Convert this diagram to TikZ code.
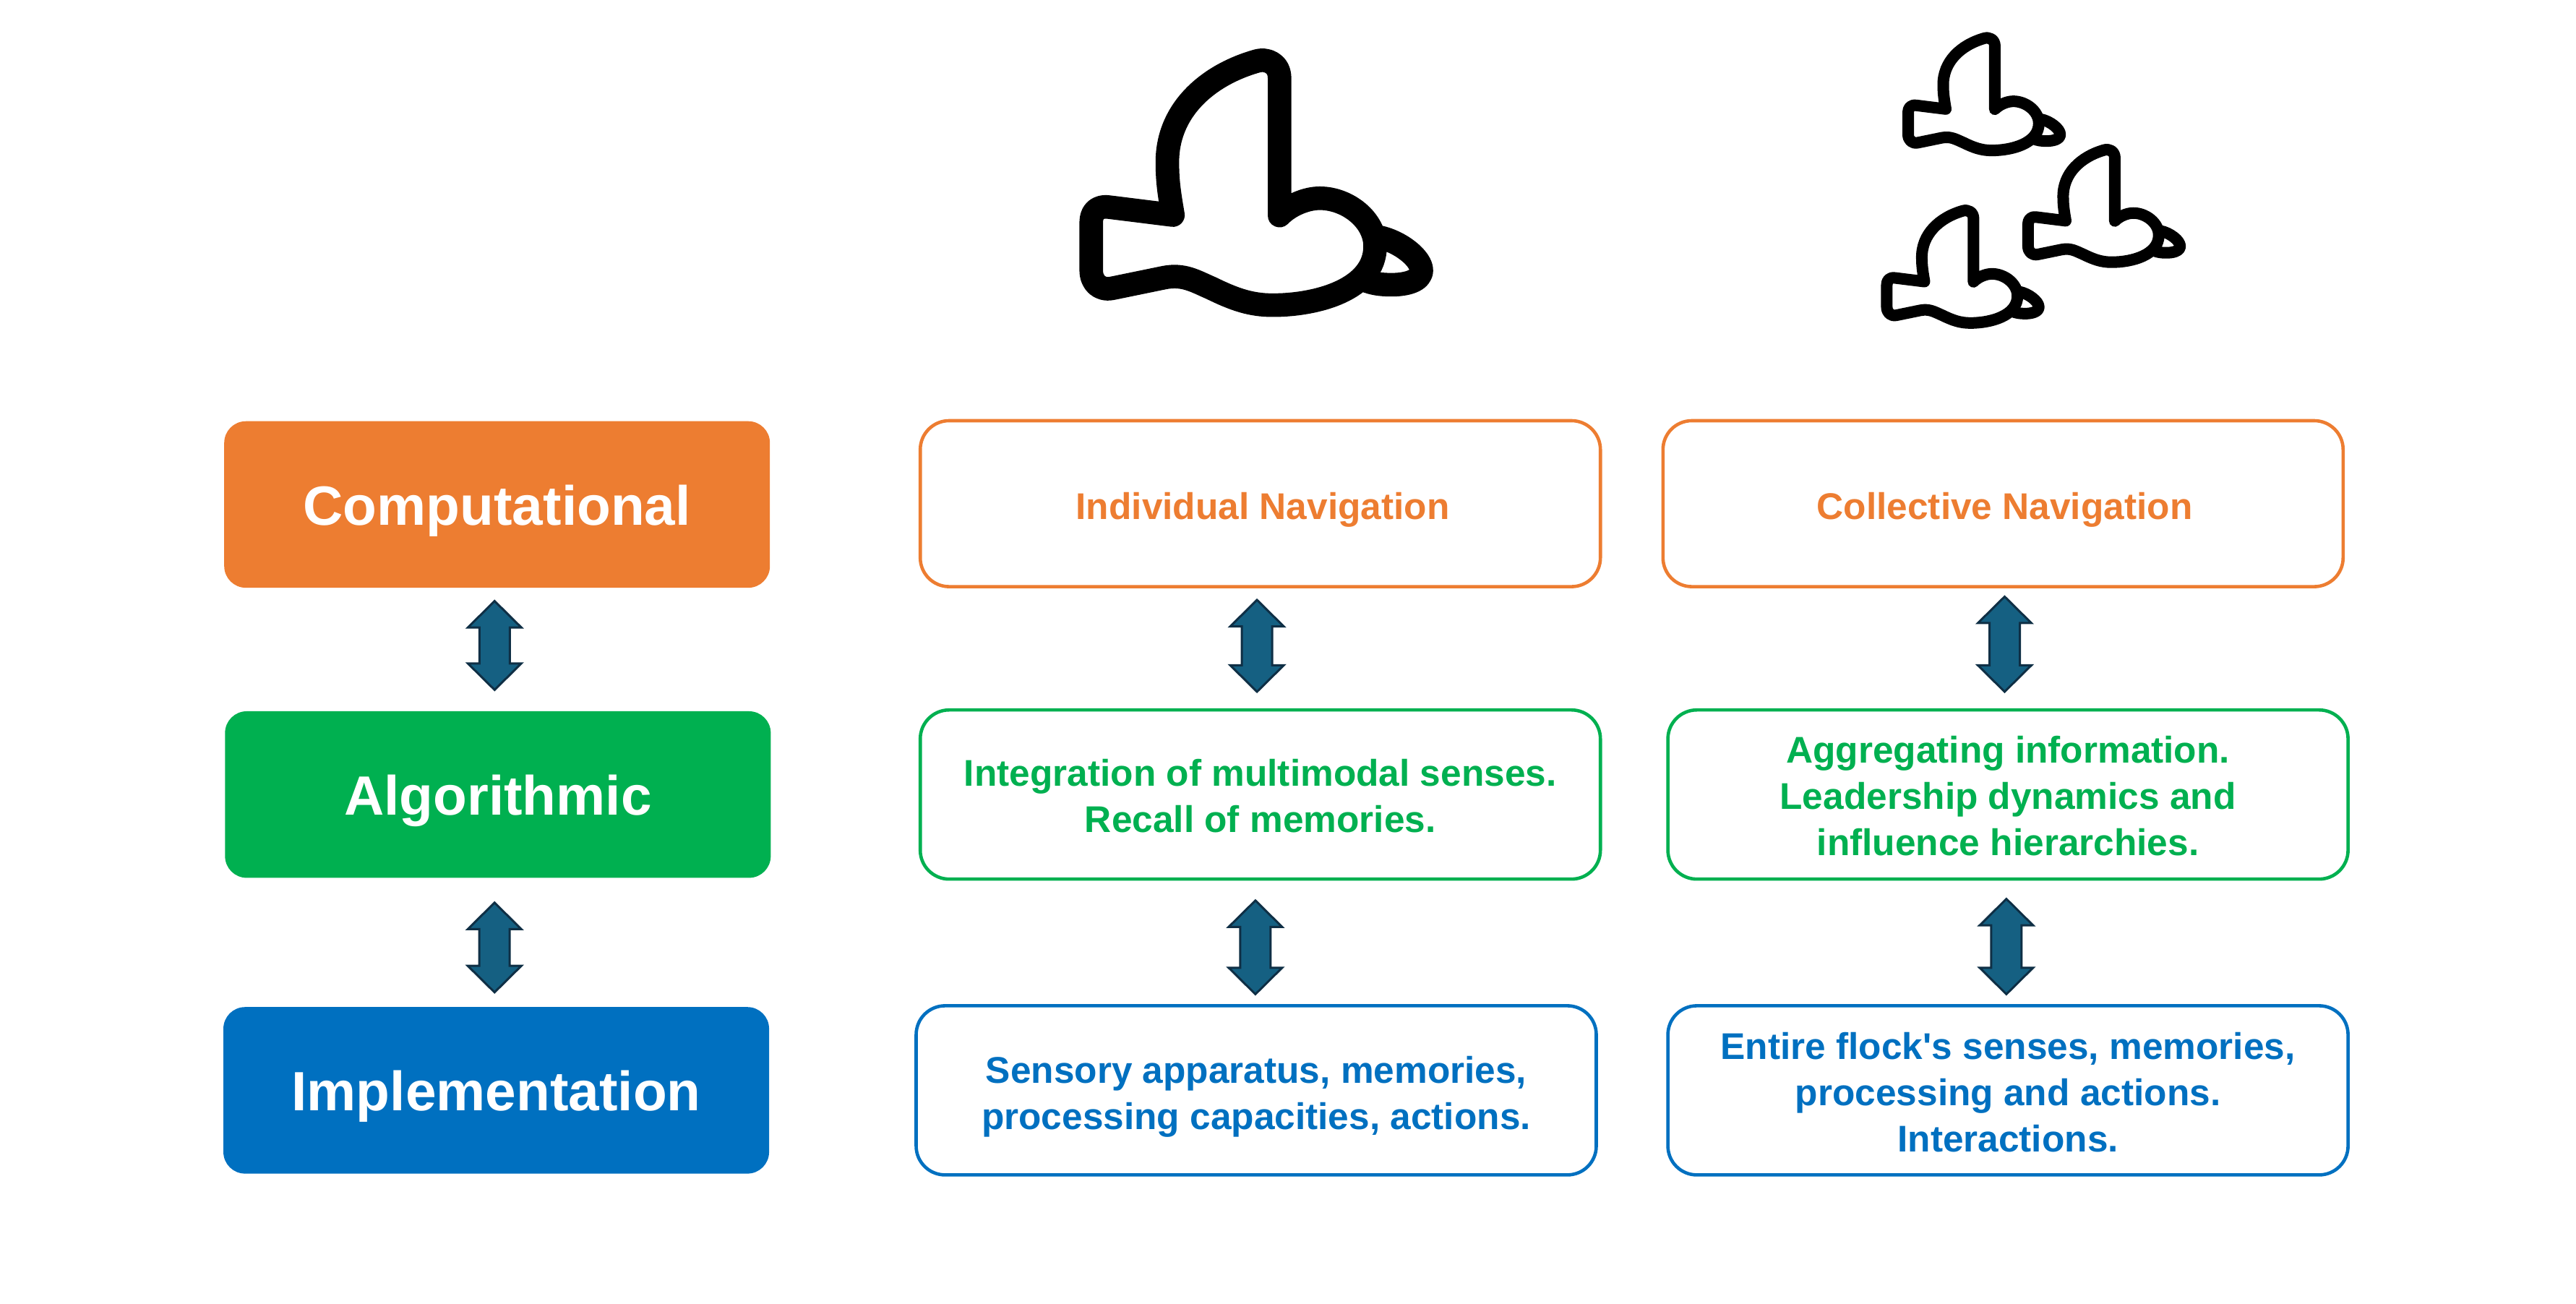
\documentclass[tikz,border=0pt]{standalone}
\usepackage{fontspec}
\setmainfont{Liberation Sans}
\usetikzlibrary{calc}
\definecolor{cOr}{HTML}{ED7D31}
\definecolor{cGr}{HTML}{00B050}
\definecolor{cBl}{HTML}{0070C0}
\definecolor{cAr}{HTML}{156082}
\definecolor{cArD}{HTML}{0F2F45}
\newcommand{\birdpath}{%
  (865,772) -- (865,200) .. controls (865,140) and (820,115) .. (780,130)
  .. controls (600,190) and (455,340) .. (460,560)
  .. controls (460,640) and (470,700) .. (480,770) -- (250,737)
  .. controls (205,730) and (185,760) .. (185,800) -- (185,1000)
  .. controls (185,1050) and (215,1085) .. (260,1075) -- (450,1030)
  .. controls (520,1015) and (560,1045) .. (620,1075)
  .. controls (700,1120) and (760,1145) .. (840,1145)
  .. controls (1000,1145) and (1210,1080) .. (1210,900)
  .. controls (1210,790) and (1110,700) .. (1010,700)
  .. controls (960,700) and (900,730) .. (865,772) -- cycle
  (1225,862) .. controls (1300,880) and (1377,950) .. (1377,1000)
  .. controls (1377,1045) and (1320,1060) .. (1270,1060)
  .. controls (1230,1060) and (1200,1055) .. (1170,1040)}
\newcommand{\topline}[1]{\rule{0pt}{#1pt}}
\tikzset{
  x=1.1367pt, y=-1.1367pt,
  solidbox/.style={rectangle, rounded corners=15pt, fill=#1, text=white, outer sep=0pt,
     font=\fontsize{38.3}{46}\selectfont\bfseries, minimum width=377.5pt, minimum height=115.2pt,
     text height=28.4pt, text depth=0pt},
  linebox/.style={rectangle, rounded corners=20pt, draw=#1, line width=2.3pt, text=#1, fill=white, outer sep=0pt,
     align=center, font=\fontsize{25.7}{32}\selectfont\bfseries, minimum width=470.5pt, minimum height=117pt},
  headbox/.style={linebox=#1, minimum height=114.8pt, text height=22pt, text depth=0pt},
  fatarrow/.style={draw=cArD, fill=cAr, line width=1.5pt, line join=miter,
     to path={let \p1=(\tikztostart), \p2=(\tikztotarget) in
       (\x1,\y1-1.2pt) -- (\x1+18.5pt,\y1-19.5pt) -- (\x1+10.5pt,\y1-19.5pt) -- (\x1+10.5pt,\y2+19.5pt) -- (\x1+18.5pt,\y2+19.5pt)
       -- (\x1,\y2+1.2pt) -- (\x1-18.5pt,\y2+19.5pt) -- (\x1-10.5pt,\y2+19.5pt) -- (\x1-10.5pt,\y1-19.5pt) -- (\x1-18.5pt,\y1-19.5pt) -- cycle}},
  birdline/.style={draw=black, line join=round, line cap=round, line width=#1},
}
\begin{document}
\begin{tikzpicture}
\useasboundingbox (0,0) rectangle (1567.7,793.5);
% left column
\node[solidbox=cOr] (comp) at (302.5,307) {Computational};
\node[solidbox=cGr] (algo) at (303,483.5) {Algorithmic};
\node[solidbox=cBl] (impl) at (302,663.5) {Implementation};
% middle column
\node[headbox=cOr] (indiv) at (767,306.5) {\hspace*{3.4pt}Individual Navigation};
\node[linebox=cGr] (ialg) at (767,483.5) {\topline{21}Integration of multimodal senses.\\Recall of memories.};
\node[linebox=cBl] (iimp) at (764.5,663.5) {\topline{28}Sensory apparatus, memories,\\processing capacities, actions.};
% right column
\node[headbox=cOr] (coll) at (1219,306.5) {\hspace*{2.3pt}Collective Navigation};
\node[linebox=cGr] (calg) at (1222,483.5) {\topline{21}Aggregating information.\\Leadership dynamics and\\influence hierarchies.};
\node[linebox=cBl] (cimp) at (1222,663.5) {\topline{21}Entire flock\textquotesingle s senses, memories,\\processing and actions.\\Interactions.};
% arrows
\draw[fatarrow] ([xshift=-1.7pt,yshift=-8pt]comp.south) to ([xshift=-2.3pt,yshift=13.6pt]algo.north);
\draw[fatarrow] ([xshift=-2.3pt,yshift=-16pt]algo.south) to ([xshift=-1.1pt,yshift=9pt]impl.north);
\draw[fatarrow] ([xshift=-2.3pt,yshift=-8pt]indiv.south) to ([xshift=-2.3pt,yshift=11.4pt]ialg.north);
\draw[fatarrow] ([xshift=-3.4pt,yshift=-13.6pt]ialg.south) to ([xshift=-0.6pt,yshift=6.8pt]iimp.north);
\draw[fatarrow] ([xshift=1.1pt,yshift=-5.7pt]coll.south) to ([xshift=-2.3pt,yshift=11.4pt]calg.north);
\draw[fatarrow] ([xshift=-1.1pt,yshift=-12.5pt]calg.south) to ([xshift=-1.1pt,yshift=6.8pt]cimp.north);
% birds
\begin{scope}[shift={(632.9,18.3)}, x=0.1916pt, y=-0.1662pt]
  \draw[birdline=16.3pt] \birdpath;
\end{scope}
\begin{scope}[shift={(1146.9,14.6)}, x=0.0882pt, y=-0.0764pt]
  \draw[birdline=8pt] \birdpath;
\end{scope}
\begin{scope}[shift={(1219.9,82.6)}, x=0.0882pt, y=-0.0764pt]
  \draw[birdline=8pt] \birdpath;
\end{scope}
\begin{scope}[shift={(1133.9,119.6)}, x=0.0882pt, y=-0.0764pt]
  \draw[birdline=8pt] \birdpath;
\end{scope}
\end{tikzpicture}
\end{document}
